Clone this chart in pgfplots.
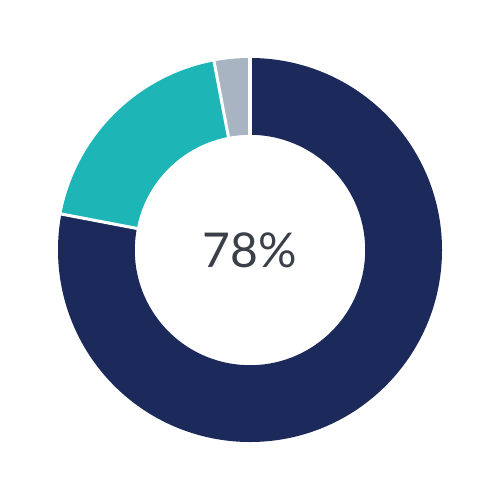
\documentclass[border=0pt]{standalone}
\usepackage{fontspec}
\setmainfont{Lato}
\usepackage{pgfplots}
\usepackage{pgfplotstable}
\pgfplotsset{compat=1.18}

\definecolor{navy}{HTML}{1B2A5A}
\definecolor{teal}{HTML}{1DB5B6}
\definecolor{slate}{HTML}{A9B4C3}
\definecolor{txt}{HTML}{3A3F4A}

% share (%) of each slice, clockwise from 12 o'clock
\pgfplotstableread{
name  value colour
A     78    navy
B     19    teal
C     3     slate
}\slices

\begin{document}
\begin{tikzpicture}
\begin{axis}[
    x=100pt, y=100pt,
    xmin=-1.302, xmax=1.302,
    ymin=-1.302, ymax=1.302,
    hide axis, clip=false,
]
% keep the white margin round the ring
\path (axis cs:-1.302,-1.302) rectangle (axis cs:1.302,1.302);
\pgfplotstablegetrowsof{\slices}
\pgfmathtruncatemacro{\last}{\pgfplotsretval-1}
\def\start{90}
\foreach \i in {0,...,\last}{
    \pgfplotstablegetelem{\i}{value}\of{\slices}
    \pgfmathsetmacro{\v}{\pgfplotsretval}
    \pgfplotstablegetelem{\i}{colour}\of{\slices}
    \edef\c{\pgfplotsretval}
    \pgfmathsetmacro{\stop}{\start-3.6*\v}
    \edef\tmp{\noexpand\fill[\c]
        (axis cs:{cos(\start)},{sin(\start)})
        arc[start angle=\start, end angle=\stop, radius=100pt]
        -- (axis cs:{0.6*cos(\stop)},{0.6*sin(\stop)})
        arc[start angle=\stop, end angle=\start, radius=60pt] -- cycle;}
    \tmp
    \xdef\start{\stop}
}
% white separators between slices
\def\start{90}
\foreach \i in {0,...,\last}{
    \pgfplotstablegetelem{\i}{value}\of{\slices}
    \pgfmathsetmacro{\v}{\pgfplotsretval}
    \edef\tmp{\noexpand\draw[white, line width=1.6pt]
        (axis cs:{0.59*cos(\start)},{0.59*sin(\start)})
        -- (axis cs:{1.01*cos(\start)},{1.01*sin(\start)});}
    \tmp
    \pgfmathsetmacro{\stop}{\start-3.6*\v}
    \xdef\start{\stop}
}
\node[text=txt, font=\fontsize{25}{30}\selectfont] at (axis cs:0,0) {78\%};
\end{axis}
\end{tikzpicture}
\end{document}
